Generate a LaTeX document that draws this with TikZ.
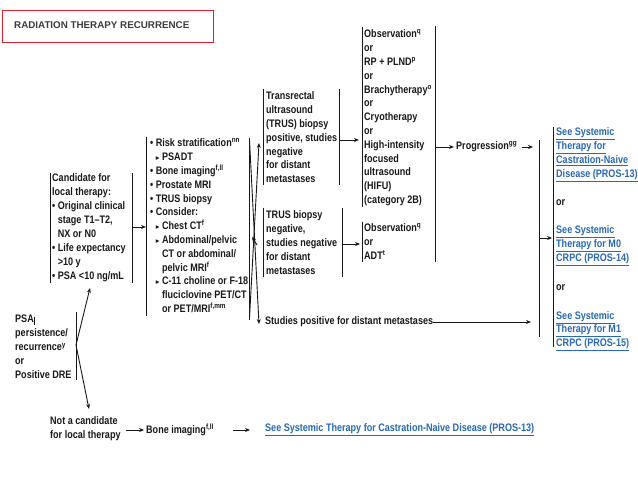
\documentclass[tikz,border=0pt]{standalone}
\usepackage{fontspec}
\setmainfont{Liberation Sans}[FakeStretch=0.83]
\newfontfamily\titlefont{Liberation Sans}
\newfontfamily\dv{DejaVu Sans}
\usetikzlibrary{arrows.meta}
\definecolor{linkblue}{RGB}{40,105,180}
\definecolor{titlered}{RGB}{215,35,45}
\definecolor{ink}{RGB}{25,25,25}
\definecolor{titleink}{RGB}{60,60,60}
\newcommand\bi{\hphantom{•\ }}
\newcommand\tri{{\dv\fontsize{7.5}{7.5}\selectfont ▸}\ }
\newcommand\ai{\hphantom{\tri}}
\newcommand\sps[1]{\textsuperscript{#1}}
\newcommand\lk[1]{\textcolor{linkblue}{\underline{#1}}}
\begin{document}
\begin{tikzpicture}[x=1pt,y=-1pt,
  txt/.style={anchor=north west, inner sep=0pt, align=left,
    font=\fontsize{10.9}{13.8}\selectfont\bfseries, text=ink},
  bar/.style={line width=0.9pt, draw=ink},
  arr/.style={line width=0.9pt, draw=ink, -{Stealth[length=5pt,width=4pt]}}]
\fill[white] (0,0) rectangle (638,478);
\useasboundingbox (0,0) rectangle (638,478);

% title
\node[draw=titlered, line width=1.3pt, minimum width=211pt, minimum height=32pt,
  anchor=north west, inner sep=0pt] (titlebox) at (2,10) {};
\node[anchor=west, inner sep=0pt, font=\titlefont\fontsize{9.8}{11}\selectfont\bfseries,
  text=titleink] (title) at (14,25) {RADIATION THERAPY RECURRENCE};

% PSA persistence
\node[txt, font=\fontsize{10.9}{14}\selectfont\bfseries] (psa) at (15,313)
  {\strut PSA\\persistence/\\recurrence\sps{y}\\or\\Positive DRE};
\draw[bar] (76,312) -- (76,380);
\draw[bar] (34,317) -- (34,325);
\coordinate (psaR) at (76,345);

% candidate
\node[txt, font=\fontsize{10.9}{14}\selectfont\bfseries] (cand) at (52,172)
  {\strut Candidate for\\local therapy:\\• Original clinical\\\bi stage T1–T2,\\\bi NX or N0\\• Life expectancy\\\bi >10 y\\• PSA <10 ng/mL};
\draw[bar] (50,173) -- (50,283);
\draw[bar] (132,173) -- (132,283);
\coordinate (candB) at (90,288);
\coordinate (candR) at (132,227);

% not a candidate
\node[txt] (notc) at (50,415) {\strut Not a candidate\\for local therapy};
\coordinate (notcT) at (89,409);
\coordinate (notcR) at (126,430);
\node[txt, anchor=west] (bone) at (146,430) {Bone imaging\sps{f,ll}};
\coordinate (boneL) at (144,430);
\coordinate (boneR) at (233,430);
\node[txt, anchor=west] (link0) at (265,430) {\lk{See Systemic Therapy for Castration-Naive Disease (PROS-13)}};
\coordinate (link0L) at (250,430);

\draw[arr] (psaR) -- (candB);
\draw[arr] (psaR) -- (notcT);
\draw[arr] (notcR) -- (boneL);
\draw[arr] (boneR) -- (link0L);

% workup
\node[txt] (work) at (150,137)
  {\strut • Risk stratification\sps{nn}\\
   \bi\tri PSADT\\
   • Bone imaging\sps{f,ll}\\
   • Prostate MRI\\
   • TRUS biopsy\\
   • Consider:\\
   \bi\tri Chest CT\sps{f}\\
   \bi\tri Abdominal/pelvic\\
   \bi\ai CT or abdominal/\\
   \bi\ai pelvic MRI\sps{f}\\
   \bi\tri C-11 choline or F-18\\
   \bi\ai fluciclovine PET/CT\\
   \bi\ai or PET/MRI\sps{f,mm}};
\draw[bar] (146,137) -- (146,316);
\draw[bar] (249,138) -- (249,320);
\coordinate (workL) at (146,227);
\draw[arr] (candR) -- (workL);
\coordinate (workA) at (249.5,318);
\coordinate (workB) at (249.5,140);
\coordinate (workC) at (257,245);
\coordinate (trpT) at (259,143);
\coordinate (posT) at (259,324);
\coordinate (trnT) at (252,237);
\draw[arr] (workA) -- (trpT);
\draw[arr] (workB) -- (posT);
\draw[arr] (workC) -- (trnT);

% TRUS positive
\node[txt] (trp) at (266,90)
  {\strut Transrectal\\ultrasound\\(TRUS) biopsy\\positive, studies\\negative\\for distant\\metastases};
\draw[bar] (263,89) -- (263,185);
\draw[bar] (339,89) -- (339,185);
\coordinate (trpR) at (339,140);
\coordinate (opt1L) at (359,140);
\draw[arr] (trpR) -- (opt1L);

% TRUS negative
\node[txt] (trn) at (266,209)
  {\strut TRUS biopsy\\negative,\\studies negative\\for distant\\metastases};
\draw[bar] (263,208) -- (263,277);
\draw[bar] (342,208) -- (342,277);
\coordinate (trnR) at (342,244);
\coordinate (opt2L) at (360,244);
\draw[arr] (trnR) -- (opt2L);

% options
\node[txt] (opt1) at (364,28)
  {\strut Observation\sps{q}\\or\\RP + PLND\sps{p}\\or\\Brachytherapy\sps{o}\\or\\Cryotherapy\\or\\High-intensity\\focused\\ultrasound\\(HIFU)\\(category 2B)};
\draw[bar] (362,27) -- (362,207);
\node[txt] (opt2) at (364,222) {\strut Observation\sps{q}\\or\\ADT\sps{t}};
\draw[bar] (362,222) -- (362,262);
\draw[bar] (435,26) -- (435,262);

% progression
\node[txt, anchor=west] (prog) at (456,147) {Progression\sps{gg}};
\coordinate (optR) at (435,147);
\coordinate (progL) at (454,147);
\coordinate (progR) at (522,147);
\coordinate (resA) at (533,147);
\draw[arr] (optR) -- (progL);
\draw[arr] (progR) -- (resA);

% studies positive
\node[txt, anchor=west] (pos) at (265,322) {Studies positive for distant metastases};
\coordinate (resC) at (531,322);
\draw[arr] (pos.east) -- (resC);

% results
\draw[bar] (539,140) -- (539,337);
\draw[bar] (553,127) -- (553,347);
\coordinate (resM) at (539,238);
\coordinate (resL) at (552,238);
\draw[arr] (resM) -- (resL);
\node[txt] (res) at (556,126)
  {\strut\lk{See Systemic}\\\lk{Therapy for}\\\lk{Castration-Naive}\\\lk{Disease (PROS-13)}\\[14.5pt]%
   or\\[14.5pt]%
   \lk{See Systemic}\\\lk{Therapy for M0}\\\lk{CRPC (PROS-14)}\\[15.5pt]%
   or\\[14.5pt]%
   \lk{See Systemic}\\\lk{Therapy for M1}\\\lk{CRPC (PROS-15)}};
\end{tikzpicture}
\end{document}
